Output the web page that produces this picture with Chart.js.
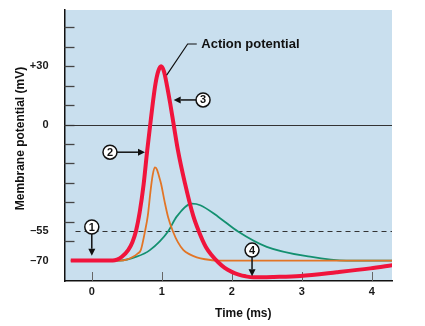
<!DOCTYPE html>
<html>
<head>
<meta charset="utf-8">
<script src="https://cdn.jsdelivr.net/npm/chart.js@4.4.0/dist/chart.umd.min.js"></script>
<style>
  body { margin: 0; background: #fff; }
  #wrap { width: 425px; height: 326px; }
</style>
</head>
<body>
<div id="wrap"><canvas id="myChart" width="425" height="326"></canvas></div>
<script>
// Tempo (ms) e potencial de membrana (mV)
const redTime = [-0.3, 0.3, 0.36, 0.43, 0.52, 0.58, 0.63, 0.685, 0.74, 0.79, 0.835, 0.875, 0.91, 0.95, 0.99, 1.03, 1.075, 1.12, 1.17, 1.23, 1.33, 1.45, 1.53, 1.63, 1.72, 1.81, 1.9, 2.0, 2.1, 2.2, 2.31, 2.6, 2.98, 3.5, 3.98, 4.3];
const redMv = [-70, -70, -69.5, -68, -64.6, -60.5, -55, -45, -31, -14, 0, 12, 21, 27.5, 30, 27.5, 20, 11, 0, -13, -30, -47, -55, -63, -67.5, -71, -73.8, -75.8, -77.2, -78.1, -78.6, -78.4, -77.9, -76, -74, -72.3];

const orangeTime = [-0.3, 0.4, 0.5, 0.59, 0.65, 0.7, 0.76, 0.8, 0.84, 0.87, 0.9, 0.93, 0.96, 0.99, 1.04, 1.09, 1.16, 1.23, 1.31, 1.4, 1.5, 1.62, 1.79, 4.3];
const orangeMv = [-70, -70, -69.5, -68, -66.5, -64.6, -55, -47, -34, -26, -22, -23, -26.5, -30.4, -39.5, -47.5, -55, -60.5, -64.6, -66.8, -68.3, -69.3, -70, -70];

const greenTime = [-0.3, 0.4, 0.64, 0.83, 1.09, 1.21, 1.43, 1.55, 1.81, 2.09, 2.5, 3.12, 3.64, 4.3];
const greenMv = [-70, -70, -68, -64.6, -55, -47.5, -40.7, -41.5, -47.5, -55, -62.9, -68, -70, -70];

const xTicks = [0, 1, 2, 3, 4];
const yTicks = [-70, -60, -55, -50, -40, -30, -20, -10, 0, 10, 20, 30, 40, 50];
const yLabelValues = [30, 0, -55, -70];
const yLabelTexts = ['+30', '0', '–55', '–70'];
const yMarks = [-60, -50, -40, -30, -20, -10, 0, 10, 20, 30, 40, 50];
const thresholdMv = -55;

// numeros das chamadas e onde ficam (em unidades dos eixos)
const calloutNums = ['1', '2', '3', '4'];
const calloutAt = [[0, -52.7], [0.26, -14.2], [1.59, 12.7], [2.29, -64.6]];
const arrowTo = [[0, -67.5], [0.76, -14.2], [1.17, 12.7], [2.29, -78]];
const apLabel = 'Action potential';

function pts(t, v) {
  return t.map((x, i) => ({ x: x, y: v[i] }));
}

const extras = {
  id: 'extras',
  beforeDraw(chart) {
    const { ctx, chartArea: a } = chart;
    ctx.save();
    ctx.fillStyle = '#c9dfee';
    ctx.fillRect(a.left, a.top, a.right - a.left, a.bottom - a.top);
    ctx.restore();
  },
  beforeDatasetsDraw(chart) {
    const { ctx, chartArea: a, scales } = chart;
    const x = scales.x, y = scales.y;
    ctx.save();
    // marcas internas do eixo y
    ctx.strokeStyle = '#444';
    ctx.lineWidth = 1.3;
    yMarks.forEach((v) => {
      const py = Math.round(y.getPixelForValue(v)) + 0.5;
      ctx.beginPath();
      ctx.moveTo(a.left, py);
      ctx.lineTo(a.left + 10, py);
      ctx.stroke();
    });
    // marcas internas do eixo x
    ctx.strokeStyle = '#666';
    ctx.lineWidth = 1;
    xTicks.forEach((v) => {
      const px = Math.round(x.getPixelForValue(v)) + 0.5;
      ctx.beginPath();
      ctx.moveTo(px, a.bottom);
      ctx.lineTo(px, a.bottom - 9);
      ctx.stroke();
    });
    // linha do zero
    ctx.strokeStyle = '#333';
    ctx.lineWidth = 1;
    let py = Math.round(y.getPixelForValue(0)) + 0.5;
    ctx.beginPath();
    ctx.moveTo(a.left, py);
    ctx.lineTo(a.right, py);
    ctx.stroke();
    // limiar tracejado
    py = Math.round(y.getPixelForValue(thresholdMv)) + 0.5;
    ctx.setLineDash([5, 4]);
    ctx.beginPath();
    ctx.moveTo(a.left + 11, py);
    ctx.lineTo(a.right, py);
    ctx.stroke();
    ctx.restore();
  },
  afterDatasetsDraw(chart) {
    const { ctx, chartArea: a, scales } = chart;
    const x = scales.x, y = scales.y;
    ctx.save();
    // chamadas numeradas com setas
    calloutNums.forEach((n, i) => {
      const cx = x.getPixelForValue(calloutAt[i][0]);
      const cy = y.getPixelForValue(calloutAt[i][1]);
      const tx = x.getPixelForValue(arrowTo[i][0]);
      const ty = y.getPixelForValue(arrowTo[i][1]);
      const r = 7;
      const len = Math.hypot(tx - cx, ty - cy);
      const dx = (tx - cx) / len, dy = (ty - cy) / len;
      const head = 7;
      ctx.strokeStyle = '#111';
      ctx.fillStyle = '#111';
      ctx.lineWidth = 1.5;
      ctx.beginPath();
      ctx.moveTo(cx + dx * r, cy + dy * r);
      ctx.lineTo(tx - dx * head, ty - dy * head);
      ctx.stroke();
      ctx.beginPath();
      ctx.moveTo(tx, ty);
      ctx.lineTo(tx - dx * head - dy * 3.5, ty - dy * head + dx * 3.5);
      ctx.lineTo(tx - dx * head + dy * 3.5, ty - dy * head - dx * 3.5);
      ctx.closePath();
      ctx.fill();
      ctx.beginPath();
      ctx.arc(cx, cy, r, 0, Math.PI * 2);
      ctx.fillStyle = '#fff';
      ctx.fill();
      ctx.stroke();
      ctx.fillStyle = '#111';
      ctx.font = 'bold 11px Arial';
      ctx.textAlign = 'center';
      ctx.textBaseline = 'middle';
      ctx.fillText(n, cx, cy + 0.5);
    });
    // rotulo "Action potential" com linha
    const lx = [1.07, 1.37, 1.5].map((v) => x.getPixelForValue(v));
    const ly = [25.5, 41.5, 41.5].map((v) => y.getPixelForValue(v));
    ctx.strokeStyle = '#111';
    ctx.lineWidth = 1.2;
    ctx.beginPath();
    ctx.moveTo(lx[0], ly[0]);
    ctx.lineTo(lx[1], ly[1]);
    ctx.lineTo(lx[2], ly[2]);
    ctx.stroke();
    ctx.font = 'bold 13px Arial';
    ctx.textAlign = 'left';
    ctx.textBaseline = 'middle';
    ctx.fillText(apLabel, x.getPixelForValue(1.565), ly[2] + 0.5);
    // titulos dos eixos
    ctx.font = 'bold 12px Arial';
    ctx.textAlign = 'center';
    ctx.fillText('Time (ms)', (a.left + a.right) / 2 + 15, 314);
    ctx.translate(21, (a.top + a.bottom) / 2 - 7);
    ctx.rotate(-Math.PI / 2);
    ctx.fillText('Membrane potential (mV)', 0, 0);
    ctx.restore();
  },
};

function criarGrafico() {
  const ctx = document.getElementById('myChart').getContext('2d');
  const chart = new Chart(ctx, {
    type: 'line',
    data: {
      datasets: [
        {
          label: 'Action potential',
          data: pts(redTime, redMv),
          borderColor: '#f0143c',
          borderWidth: 4,
        },
        {
          label: 'Orange',
          data: pts(orangeTime, orangeMv),
          borderColor: '#e27526',
          borderWidth: 1.8,
        },
        {
          label: 'Green',
          data: pts(greenTime, greenMv),
          borderColor: '#139070',
          borderWidth: 1.8,
        },
      ],
    },
    options: {
      responsive: false,
      animation: false,
      devicePixelRatio: 1,
      elements: {
        point: { radius: 0 },
        line: { cubicInterpolationMode: 'monotone', fill: false },
      },
      layout: { padding: { top: 10, right: 33, left: 0, bottom: 0 } },
      plugins: { legend: { display: false }, tooltip: { enabled: false } },
      scales: {
        x: {
          type: 'linear',
          min: -0.39,
          max: 4.29,
          afterBuildTicks: (s) => { s.ticks = xTicks.map((v) => ({ value: v })); },
          afterFit: (s) => { s.height = 45; s.paddingLeft = 0; s.paddingRight = 0; },
          ticks: { font: { weight: 'bold', size: 11, family: 'Arial' }, color: '#1a1a1a', padding: 4 },
          grid: { drawOnChartArea: false, drawTicks: false },
          border: { color: '#111', width: 1.5 },
        },
        y: {
          min: -80.5,
          max: 59,
          afterBuildTicks: (s) => { s.ticks = yTicks.map((v) => ({ value: v })); },
          afterFit: (s) => { s.width = 64.5; s.paddingTop = 0; s.paddingBottom = 0; },
          ticks: {
            font: { weight: 'bold', size: 11, family: 'Arial' },
            color: '#1a1a1a',
            padding: 16,
            autoSkip: false,
            callback: (v) => {
              const i = yLabelValues.indexOf(v);
              return i >= 0 ? yLabelTexts[i] : '';
            },
          },
          grid: { drawOnChartArea: false, drawTicks: false },
          border: { color: '#111', width: 1.5 },
        },
      },
    },
    plugins: [extras],
  });
}

criarGrafico();
</script>
</body>
</html>
